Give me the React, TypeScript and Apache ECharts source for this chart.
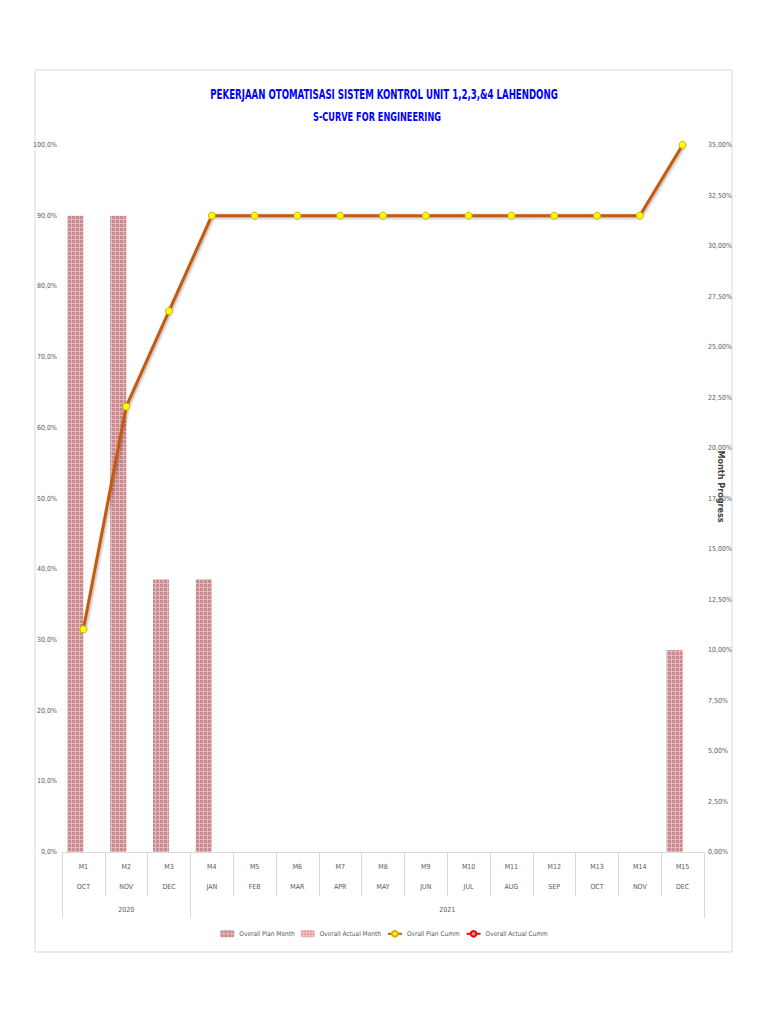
import React, { useEffect, useRef } from "react";
import * as echarts from "echarts";

const monthCodes = ["M1", "M2", "M3", "M4", "M5", "M6", "M7", "M8", "M9", "M10", "M11", "M12", "M13", "M14", "M15"];
const monthNames = ["OCT", "NOV", "DEC", "JAN", "FEB", "MAR", "APR", "MAY", "JUN", "JUL", "AUG", "SEP", "OCT", "NOV", "DEC"];
const yearLabels = ["2020", "2021"];
const yearMonthCounts = [3, 12];

const planMonth = [31.5, 31.5, 13.5, 13.5, 0, 0, 0, 0, 0, 0, 0, 0, 0, 0, 10];
const actualMonth = [0, 0, 0, 0, 0, 0, 0, 0, 0, 0, 0, 0, 0, 0, 0];
const planCumm = [31.5, 63, 76.5, 90, 90, 90, 90, 90, 90, 90, 90, 90, 90, 90, 100];
const actualCumm: (number | null)[] = [null, null, null, null, null, null, null, null, null, null, null, null, null, null, null];

const TITLE = "PEKERJAAN OTOMATISASI SISTEM KONTROL UNIT 1,2,3,&4 LAHENDONG";
const SUBTITLE = "S-CURVE FOR ENGINEERING";

const FONT = "'DejaVu Sans Condensed', 'Liberation Sans', sans-serif";

export default function App() {
  const ref = useRef<HTMLDivElement>(null);
  useEffect(() => {
    if (!ref.current) return;
    const chart = echarts.init(ref.current, undefined, { renderer: "svg" });

    const yearBounds: number[] = [0];
    yearMonthCounts.forEach((c) => yearBounds.push(yearBounds[yearBounds.length - 1] + c));
    const yearCenters = yearLabels.map((_, i) => (yearBounds[i] + yearBounds[i + 1]) / 2);

    const labelStyle = { color: "#595959", fontSize: 7, fontFamily: FONT };

    chart.setOption({
      animation: false,
      backgroundColor: "#ffffff",
      textStyle: { fontFamily: FONT },
      graphic: [
        {
          type: "rect",
          shape: { x: 35, y: 70, width: 697, height: 882 },
          style: { fill: "none", stroke: "#d9d9d9", lineWidth: 1 },
          silent: true,
        },
        {
          type: "text",
          x: 384,
          y: 94,
          scaleX: 0.685,
          style: {
            text: TITLE,
            align: "center",
            verticalAlign: "middle",
            fill: "#0000ff",
            fontSize: 14,
            fontWeight: "bold",
            fontFamily: "DejaVu Sans Condensed",
          },
          silent: true,
        },
        {
          type: "text",
          x: 377,
          y: 117,
          scaleX: 0.76,
          style: {
            text: SUBTITLE,
            align: "center",
            verticalAlign: "middle",
            fill: "#0000ff",
            fontSize: 12,
            fontWeight: "bold",
            fontFamily: "DejaVu Sans Condensed",
          },
          silent: true,
        },
      ],
      legend: {
        top: 925,
        left: "center",
        itemWidth: 14,
        itemHeight: 7,
        itemGap: 6,
        textStyle: { fontSize: 6.5, color: "#595959", fontFamily: FONT },
        data: ["Overall Plan Month", "Overall Actual Month", "Ovrall Plan Cumm", "Overall Actual Cumm"],
      },
      grid: { left: 62, right: 64, top: 145, bottom: 172 },
      xAxis: [
        {
          type: "category",
          data: monthCodes,
          position: "bottom",
          axisLine: { show: true, lineStyle: { color: "#d9d9d9" } },
          axisTick: { show: true, interval: 0, alignWithLabel: false, length: 44, lineStyle: { color: "#d9d9d9" } },
          axisLabel: {
            interval: 0,
            margin: 5,
            ...labelStyle,
            formatter: (v: string, i: number) => `{a|${v}}\n{b|${monthNames[i]}}`,
            rich: {
              a: { lineHeight: 20, ...labelStyle },
              b: { lineHeight: 20, ...labelStyle },
            },
          },
          splitLine: { show: false },
        },
        {
          type: "value",
          min: 0,
          max: 15,
          position: "bottom",
          axisLine: { show: false },
          splitLine: { show: false },
          axisTick: {
            show: true,
            customValues: yearBounds,
            length: 66,
            lineStyle: { color: "#d9d9d9" },
          },
          axisLabel: {
            show: true,
            customValues: yearCenters,
            margin: 54,
            ...labelStyle,
            formatter: (v: number) => {
              const idx = yearCenters.indexOf(v);
              return idx >= 0 ? yearLabels[idx] : "";
            },
          },
        },
      ],
      yAxis: [
        {
          type: "value",
          min: 0,
          max: 100,
          interval: 10,
          position: "left",
          axisLine: { show: false },
          axisTick: { show: false },
          splitLine: { show: false },
          axisLabel: {
            margin: 5,
            ...labelStyle,
            formatter: (v: number) => v.toFixed(1).replace(".", ",") + "%",
          },
        },
        {
          type: "value",
          min: 0,
          max: 35,
          interval: 2.5,
          position: "right",
          name: "Month Progress",
          nameLocation: "middle",
          nameRotate: -90,
          nameGap: 12,
          nameMoveOverlap: false,
          nameTextStyle: {
            fontSize: 9,
            fontWeight: "bold",
            color: "#404040",
            fontFamily: FONT,
            padding: [0, 24, 0, 0],
          },
          axisLine: { show: false },
          axisTick: { show: false },
          splitLine: { show: false },
          axisLabel: {
            margin: 4,
            ...labelStyle,
            formatter: (v: number) => v.toFixed(2).replace(".", ",") + "%",
          },
        },
      ],
      series: [
        {
          name: "Overall Plan Month",
          type: "bar",
          xAxisIndex: 0,
          yAxisIndex: 1,
          data: planMonth,
          barWidth: 16,
          barGap: "0%",
          itemStyle: {
            color: "#e2babc",
            decal: {
              symbol: "rect",
              symbolSize: 1,
              color: "#c98a8d",
              dashArrayX: [3, 1],
              dashArrayY: [3, 1],
              rotation: 0,
            },
          },
        },
        {
          name: "Overall Actual Month",
          type: "bar",
          xAxisIndex: 0,
          yAxisIndex: 1,
          data: actualMonth,
          barWidth: 16,
          barGap: "0%",
          itemStyle: {
            color: "#f4c7c8",
            decal: {
              symbol: "rect",
              symbolSize: 1,
              color: "#e58f92",
              dashArrayX: [2, 1],
              dashArrayY: [2, 1],
              rotation: 0,
            },
          },
        },
        {
          name: "Ovrall Plan Cumm",
          type: "line",
          xAxisIndex: 0,
          yAxisIndex: 0,
          data: planCumm,
          z: 5,
          symbol: "circle",
          symbolSize: 7,
          lineStyle: {
            color: "#c55a11",
            width: 3,
            shadowColor: "rgba(0,0,0,0.35)",
            shadowBlur: 3,
            shadowOffsetX: 1,
            shadowOffsetY: 1,
          },
          itemStyle: { color: "#ffff00", borderColor: "#d4b000", borderWidth: 1 },
        },
        {
          name: "Overall Actual Cumm",
          type: "line",
          xAxisIndex: 0,
          yAxisIndex: 0,
          data: actualCumm,
          z: 4,
          symbol: "circle",
          symbolSize: 7,
          lineStyle: { color: "#ff0000", width: 3 },
          itemStyle: { color: "#a5a5a5", borderColor: "#ff0000", borderWidth: 1 },
        },
      ],
    });
    return () => chart.dispose();
  }, []);
  return <div ref={ref} style={{ position: "absolute", left: 0, top: 0, width: 768, height: 1024 }} />;
}
